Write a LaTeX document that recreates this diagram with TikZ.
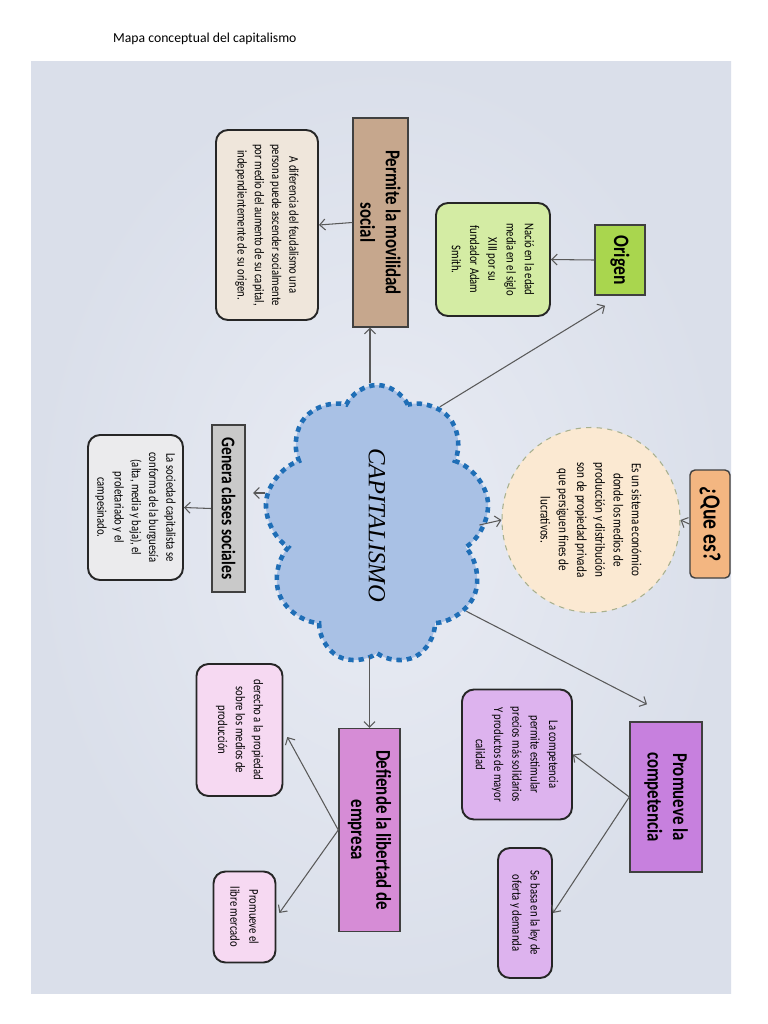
\documentclass[tikz,border=0pt]{standalone}
\usepackage{fontspec}
\setmainfont{Carlito}
\newfontfamily\cfont{Carlito}[FakeStretch=0.8]
\newfontfamily\capfont{Liberation Serif}
\usetikzlibrary{arrows.meta,shapes.geometric,shapes.symbols}

\definecolor{bgin}{HTML}{E9ECF4}
\definecolor{bgout}{HTML}{DADFEA}
\definecolor{cloudfill}{HTML}{A9C1E5}
\definecolor{cloudline}{HTML}{1F6EB6}
\definecolor{permfill}{HTML}{C6A78D}
\definecolor{permnote}{HTML}{EFE6DB}
\definecolor{origfill}{HTML}{A9D64E}
\definecolor{orignote}{HTML}{D4ECA4}
\definecolor{queefill}{HTML}{F3B681}
\definecolor{queenote}{HTML}{FBE9D2}
\definecolor{queeline}{HTML}{A8B08E}
\definecolor{genfill}{HTML}{C9C9C9}
\definecolor{gennote}{HTML}{EBEBED}
\definecolor{deffill}{HTML}{D68CD6}
\definecolor{defnote}{HTML}{F6D9F2}
\definecolor{compfill}{HTML}{C780DE}
\definecolor{compnote}{HTML}{DDB3EE}

\newcommand\hdfont{\cfont\bfseries\fontsize{12}{14.5}\selectfont}
\newcommand\ntfont{\cfont\fontsize{7.6}{9.8}\selectfont}

\begin{document}
\begin{tikzpicture}[x=0.2mm, y=-0.2mm,
  head/.style={draw=black!75, line width=0.8pt, align=center, rotate=-90,
               font=\hdfont, inner sep=1pt},
  note/.style={draw=black!85, line width=1.1pt, rounded corners=2.4mm,
               align=center, rotate=-90, font=\ntfont, inner sep=1pt},
  conn/.style={draw=black!65, line width=0.6pt,
               -{Straight Barb[length=1.1mm,width=2.2mm]}}
]
\path[use as bounding box, fill=white] (0,0) rectangle (768,1024);
\shade[inner color=bgin, outer color=bgout] (31,61) rectangle (731,993);

\node[anchor=base west, font=\fontsize{7.8}{9}\selectfont] (title) at (107,42)
     {Mapa conceptual del capitalismo};

% centro
\node[cloud, cloud puffs=9, cloud puff arc=130, cloud ignores aspect,
      minimum width=45mm, minimum height=56mm, fill=cloudfill, draw=cloudline,
      line width=2.6pt, dash pattern=on 3pt off 2.8pt] (cap) at (377,525) {};
\node[rotate=-90, font=\capfont\itshape\fontsize{14}{16}\selectfont] (captxt)
     at (cap) {CAPITALISMO};

% ramas
\node[head, fill=permfill, minimum width=41.8mm, minimum height=11mm] (perm)
     at (380.5,222.5) {Permite la movilidad\\social};
\node[note, fill=permnote, minimum width=38mm, minimum height=20.4mm] (permtxt)
     at (267,225) {A diferencia del feudalismo una\\persona puede ascender socialmente\\
     por medio del aumento de su capital,\\independientemente de su origen.};

\node[head, fill=origfill, font=\cfont\bfseries\fontsize{12.5}{15}\selectfont,
      minimum width=14mm, minimum height=10mm] (orig) at (620,260) {Origen};
\node[note, fill=orignote, font=\cfont\fontsize{7.6}{10.4}\selectfont,
      minimum width=22.6mm, minimum height=22.8mm] (origtxt)
     at (493,259.5) {Nació en la edad\\media en el siglo\\XIII por su\\fundador Adam\\Smith.};

\node[head, fill=queefill, rounded corners=1mm, font=\cfont\bfseries\fontsize{14}{16}\selectfont,
      minimum width=21.6mm, minimum height=8mm] (quees) at (710,524) {¿Que es?};
\node[ellipse, rotate=-90, draw=queeline, dashed, line width=0.6pt, fill=queenote,
      align=center, inner sep=0pt, font=\cfont\fontsize{7.9}{10.4}\selectfont,
      minimum width=37mm, minimum height=35.6mm] (queestxt) at (591,520)
     {Es un sistema económico\\donde los medios de\\producción y distribución\\
      son de propiedad privada\\que persiguen fines de\\lucrativos.};

\node[head, fill=genfill, line width=1.2pt, font=\cfont\bfseries\fontsize{11}{13}\selectfont,
      minimum width=33.4mm, minimum height=6.6mm] (gen) at (228.5,508.5)
     {Genera clases sociales};
\node[note, fill=gennote, minimum width=29mm, minimum height=19mm] (gentxt)
     at (135.5,507.5) {La sociedad capitalista se\\conforma de la burguesía\\
     (alta, media y baja), el\\proletariado y el\\campesinado.};

\node[head, fill=deffill, minimum width=40.6mm, minimum height=12.2mm] (def)
     at (369.5,830) {Defiende la libertad de\\empresa};
\node[note, fill=defnote, font=\cfont\fontsize{7.6}{10.2}\selectfont,
      minimum width=26.4mm, minimum height=17.2mm] (deftxt1)
     at (239.5,730) {derecho a la propiedad\\sobre los medios de\\producción};
\node[note, fill=defnote, font=\cfont\fontsize{7.6}{10.8}\selectfont,
      minimum width=18.2mm, minimum height=12.4mm] (deftxt2)
     at (244.5,917) {Promueve el\\libre mercado};

\node[head, fill=compfill, minimum width=30mm, minimum height=14.4mm] (comp)
     at (666,797) {Promueve la\\competencia};
\node[note, fill=compnote, font=\cfont\fontsize{7.6}{10.4}\selectfont,
      minimum width=26mm, minimum height=22mm] (comptxt1)
     at (517,754.5) {La competencia\\permite estimular\\precios más solidarios\\
     Y productos de mayor\\calidad};
\node[note, fill=compnote, font=\cfont\fontsize{7.6}{10.4}\selectfont,
      minimum width=26mm, minimum height=10.8mm] (comptxt2)
     at (525,913) {Se basa en la ley de\\oferta y demanda};

% flechas
\draw[conn] ([xshift=-1.4mm]cap.north) -- ([xshift=-1.4mm]cap.north |- perm.east);
\draw[conn] (perm.south) -- (permtxt.north);
\draw[conn] (cap.62) -- ([shift={(-15,10)}]orig.east);
\draw[conn] (orig.south) -- (origtxt.north);
\draw[conn] ([xshift=-1.5mm]cap.east) -- (queestxt.south);
\draw[conn] (quees.south) -- (queestxt.north);
\draw[conn, shorten >=1.4mm] (cap.164) -- (cap.164 -| gen.north);
\draw[conn] (gen.south) -- (gentxt.north);
\draw[conn] (cap.south -| def.west) -- (def.west);
\draw[conn, shorten >=1.6mm] (def.south) -- (deftxt1.north);
\draw[conn, shorten >=1mm] (def.south) -- (deftxt2.north);
\draw[conn] (cap.-44) -- ([shift={(-19,-17)}]comp.west);
\draw[conn] (comp.south) -- (comptxt1.north);
\draw[conn] (comp.south) -- (comptxt2.north);
\end{tikzpicture}
\end{document}
